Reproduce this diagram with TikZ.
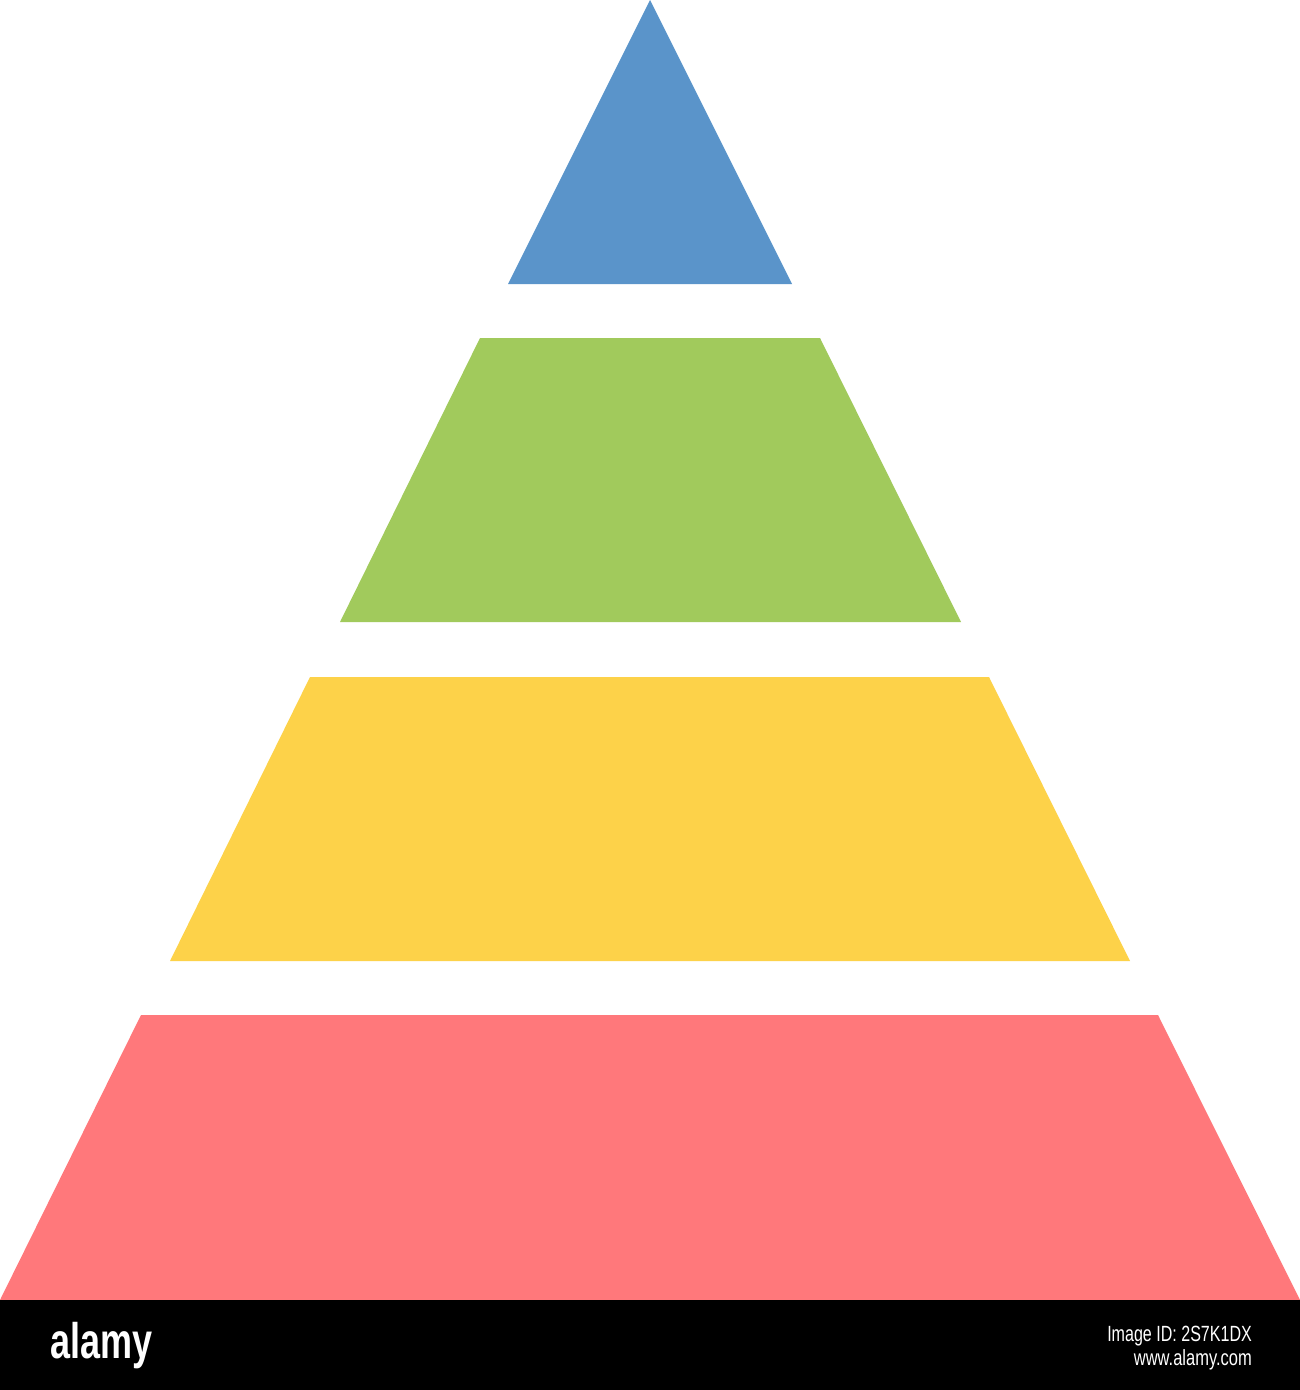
\documentclass[tikz,border=0pt]{standalone}
\usepackage{fontspec}
\setmainfont{Liberation Sans}
\definecolor{tierblue}{HTML}{5A94CA}
\definecolor{tiergreen}{HTML}{A1CA5C}
\definecolor{tieryellow}{HTML}{FDD249}
\definecolor{tierred}{HTML}{FF787B}
\begin{document}
\begin{tikzpicture}[x=1pt,y=-1pt,
  tier/.style={draw=none},
  bartext/.style={text=white,inner sep=0pt,font=\fontsize{22}{24}\selectfont}]
\useasboundingbox (0,0) rectangle (1300,1390);
\fill[white] (0,0) rectangle (1300,1390);
% tiers
\fill[tierblue,tier] (650,0) -- (792,284) -- (508,284) -- cycle;
\fill[tiergreen,tier] (480,338) -- (820,338) -- (961,622) -- (340,622) -- cycle;
\fill[tieryellow,tier] (310,677) -- (989,677) -- (1130,961) -- (170,961) -- cycle;
\fill[tierred,tier] (141,1015) -- (1158,1015) -- (1300,1300) -- (0,1300) -- cycle;
% bottom bar
\fill[black] (0,1300) rectangle (1300,1390);
\node[text=white,inner sep=0pt,anchor=base west,xscale=0.72,font=\bfseries\fontsize{50}{52}\selectfont] (logo) at (50,1358) {alamy};
\node[bartext,anchor=base east,xscale=0.73] (imgid) at (1252,1341) {Image ID: 2S7K1DX};
\node[bartext,anchor=base east,xscale=0.75] (url) at (1252,1365) {www.alamy.com};
\end{tikzpicture}
\end{document}
